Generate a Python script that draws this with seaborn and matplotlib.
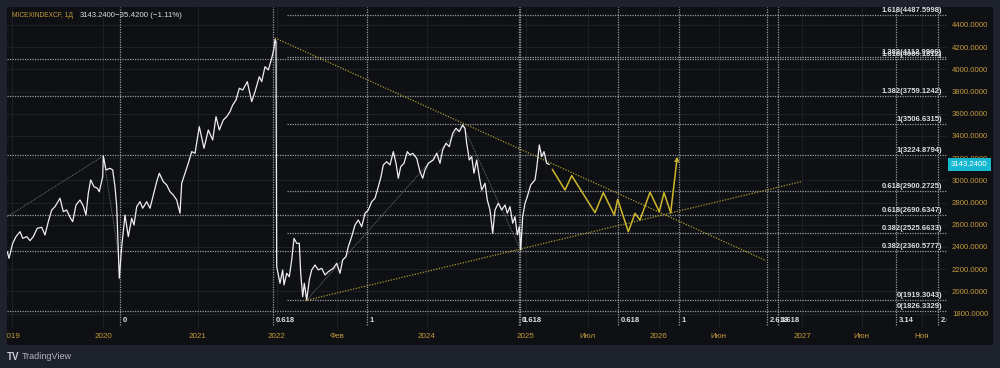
import matplotlib

matplotlib.use("Agg")
import matplotlib.pyplot as plt
from matplotlib.patches import Rectangle
import seaborn as sns
import pandas as pd

# Chart position along the (bar based) time axis and daily close
bar_pos = [
    7.3, 9, 12.7, 16, 20, 22.7, 26.7, 30, 33.3, 37.3, 41.7, 45, 48.3, 51.7, 55,
    60, 63.3, 66.7, 70, 72.7, 76, 80, 83.3, 86, 88.3, 90.7, 94, 97.3, 99.3,
    102.7, 103.3, 106, 110, 112.7, 115, 116.7, 119.3, 121.7, 125, 128.3, 131.7,
    134, 136.7, 140, 142.7, 146.7, 150, 153.3, 156.7, 159.3, 163.3, 166.7, 170,
    173.3, 176.7, 180, 181.7, 185, 188.3, 191.7, 195, 199.3, 204, 208.3, 212.7,
    216, 219.3, 223.3, 226.7, 230, 232.7, 236, 239.3, 242.7, 247.3, 251.7, 255,
    259.3, 261.7, 265, 268.3, 271.7, 274, 275, 276, 276.7, 280, 282.7, 284,
    286.7, 289.3, 291.7, 294, 296.7, 299.3, 300.7, 302.7, 304.3, 306.7, 309.3,
    311.7, 315, 318.3, 321.7, 325, 328.3, 333.3, 336.7, 340, 342.7, 346, 348.3,
    351.7, 355, 358.3, 361.7, 365, 368.3, 371.7, 375, 378.3, 381, 383.3, 386.7,
    390, 393.3, 396, 398.3, 400.7, 404, 407.3, 410, 412.7, 416.7, 420, 422.7,
    425, 428.3, 433.3, 436.7, 440, 442.7, 446, 449.3, 452.7, 456, 459.3, 462.7,
    465, 466.7, 469.3, 471.7, 474, 476.7, 479.3, 481.7, 485, 487.3, 490, 492.7,
    495, 498.3, 501.7, 505, 507.3, 510, 512.7, 515, 517.3, 519.3, 520.7, 522.7,
    525, 527.3, 530.7, 535, 536.7, 539.3, 541.7, 544, 546.7, 549.3,
]
close = [
    2358, 2298, 2433, 2493, 2538, 2478, 2493, 2457, 2493, 2569, 2577, 2508, 2628,
    2733, 2763, 2839, 2718, 2733, 2668, 2628, 2778, 2823, 2769, 2688, 2884, 3004,
    2943, 2929, 2898, 3033, 3220, 3094, 3109, 3094, 2943, 2763, 2118, 2403, 2688,
    2493, 2659, 2598, 2763, 2808, 2749, 2808, 2749, 2868, 2988, 3064, 2988, 2959,
    2898, 2868, 2823, 2704, 2974, 3064, 3154, 3259, 3244, 3484, 3289, 3454, 3364,
    3574, 3454, 3544, 3574, 3619, 3679, 3724, 3830, 3814, 3889, 3709, 3799, 3934,
    3889, 4024, 3995, 4100, 4190, 4271, 4250, 2223, 2073, 2193, 2058, 2163, 2132,
    2283, 2478, 2433, 2433, 2163, 1952, 2073, 1922, 2103, 2193, 2238, 2193, 2208,
    2148, 2177, 2208, 2253, 2163, 2283, 2313, 2403, 2493, 2598, 2643, 2583, 2704,
    2733, 2808, 2839, 2943, 3033, 3139, 3168, 3139, 3259, 3154, 3019, 3123, 3154,
    3259, 3229, 3244, 3199, 3078, 3019, 3094, 3154, 3184, 3244, 3154, 3274, 3334,
    3304, 3424, 3469, 3439, 3499, 3469, 3334, 3184, 3214, 3064, 3184, 3033, 2913,
    2974, 2823, 2733, 2523, 2733, 2794, 2733, 2778, 2704, 2763, 2614, 2673, 2508,
    2583, 2373, 2673, 2794, 2853, 2959, 3004, 3109, 3319, 3214, 3259, 3154, 3143.24,
]
last_close = 3143.24
header_name = "MICEXINDEXCF, 1Д"
header_values = ["3143.2400", "\u221235.4200 (\u22121.11%)"]

# hand drawn wave projection (yellow zigzag)
proj_pos = [552.3, 565, 571.7, 595, 603.3, 614.3, 617.7, 628.3, 635, 640, 650,
            659.3, 664, 670.7, 677.3]
proj_price = [3100, 2913, 3043, 2709, 2889, 2688, 2829, 2538, 2703, 2643, 2893,
              2718, 2889, 2709, 3214]

# trend lines
upper_pos = [275, 766]
upper_price = [4283, 2277]
lower_pos = [305, 801]
lower_price = [1916, 2988]

# fib tool anchor lines
anchor_a_pos = [7.3, 103.3, 118.5]
anchor_a_price = [2673, 3220, 2330]
anchor_b_pos = [306.7, 462.7, 520.7]
anchor_b_price = [1922, 3499, 2373]

# fibonacci price levels
fib_ratio = ["0", "0.382", "0.618", "1", "1.382", "1.618"]
fib_a_price = [1826.3329, 2360.5777, 2690.6347, 3224.8794, 3759.1242, 4089.1812]
fib_b_price = [1919.3043, 2525.6633, 2900.2725, 3506.6315, 4112.9906, 4487.5998]
fib_a_start = 7
fib_b_start = 287

# fibonacci time zones
tz_a_origin, tz_a_unit = 120, 247
tz_a_ratio = ["0", "0.618", "1", "1.618", "2.618", "3.14"]
tz_b_origin, tz_b_unit = 519, 160
tz_b_ratio = ["0", "0.618", "1", "1.618", "2.618"]

# time axis
date_pos = [11.7, 103, 197.5, 277, 336.5, 426.5, 526, 587.5, 659, 718.5, 802,
            861.5, 921.7]
date_lbl = ["2019", "2020", "2021", "2022", "Фев", "2024", "2025", "Июл", "2026",
            "Июн", "2027", "Июн", "Ноя"]
price_ticks = [1800, 2000, 2200, 2400, 2600, 2800, 3000, 3200, 3400, 3600, 3800,
               4000, 4200, 4400]

X_MIN, X_MAX = 7, 947
Y_MIN, Y_MAX = 1679, 4562

BG_OUT = "#1e222d"
BG = "#0f1014"
GOLD = "#c49a3c"
TXT = "#dcdde0"
FIB = "#999ba2"
TREND = "#a99a2c"
WAVE = "#cdb82c"

sns.set_theme(style="dark")
plt.rcParams["font.family"] = ["Liberation Sans", "DejaVu Sans"]

fig = plt.figure(figsize=(10, 3.68), dpi=100, facecolor=BG_OUT)
panel = Rectangle((0.007, 0.0625), 0.986, 0.9185, transform=fig.transFigure,
                  facecolor=BG, edgecolor="none", zorder=-5)
fig.patches.append(panel)

ax = fig.add_axes([0.007, 0.1114, 0.94, 0.8696])
ax.set_facecolor(BG)
for s in ax.spines.values():
    s.set_visible(False)

price_df = pd.DataFrame({"pos": bar_pos, "close": close})
proj_df = pd.DataFrame({"pos": proj_pos[:-1], "price": proj_price[:-1]})

# fib levels
for start, levels in ((fib_a_start, fib_a_price), (fib_b_start, fib_b_price)):
    for r, p in zip(fib_ratio, levels):
        ax.hlines(p, start, X_MAX, color=FIB, lw=0.9, linestyles=(0, (1, 1)), zorder=2)
        ax.text(942, p + 10, f"{r}({p:.4f})", ha="right", va="bottom", color=TXT,
                fontsize=5.5, fontweight="bold", zorder=5, clip_on=True)

# time zones
tz_y = 4400 - 296 * 9.009
for origin, unit, ratios in ((tz_a_origin, tz_a_unit, tz_a_ratio),
                             (tz_b_origin, tz_b_unit, tz_b_ratio)):
    for r in ratios:
        x = origin + float(r) * unit
        ax.vlines(x, 1697, Y_MAX, color=FIB, lw=0.9, linestyles=(0, (1, 1)), zorder=2)
        ax.text(x + 3, tz_y, r, ha="left", va="center", color=TXT, fontsize=5.5,
                fontweight="bold", zorder=5, clip_on=True)

# anchors and trend lines
ax.plot(anchor_a_pos, anchor_a_price, color="#7d8089", lw=0.6, ls=(0, (1, 1)), zorder=3)
ax.plot(anchor_b_pos, anchor_b_price, color="#7d8089", lw=0.6, ls=(0, (1, 1)), zorder=3)
ax.plot(upper_pos, upper_price, color=TREND, lw=0.9, ls=(0, (1, 1.2)), zorder=3)
ax.plot(lower_pos, lower_price, color=TREND, lw=0.9, ls=(0, (1, 1.2)), zorder=3)

# price
sns.lineplot(data=price_df, x="pos", y="close", sort=False, estimator=None,
             color="#eeeeee", lw=0.9, ax=ax, zorder=4)

# projection
sns.lineplot(data=proj_df, x="pos", y="price", sort=False, estimator=None,
             color=WAVE, lw=1.1, ax=ax, zorder=4)
ax.annotate("", xy=(proj_pos[-1], proj_price[-1]), xytext=(proj_pos[-2], proj_price[-2]),
            arrowprops=dict(arrowstyle="->", color=WAVE, lw=1.1, mutation_scale=6,
                            shrinkA=0, shrinkB=0), zorder=4)

ax.set_xlim(X_MIN, X_MAX)
ax.set_ylim(Y_MIN, Y_MAX)
ax.set_xlabel("")
ax.set_ylabel("")

ax.set_xticks(date_pos)
ax.set_xticklabels(date_lbl)
ax.yaxis.tick_right()
ax.set_yticks(price_ticks)
ax.set_yticklabels([f"{v:.4f}" for v in price_ticks])
ax.tick_params(axis="x", length=0, pad=4.5, labelsize=5.8, labelcolor=GOLD)
ax.tick_params(axis="y", length=0, pad=3.5, labelsize=5.6, labelcolor=GOLD)
ax.grid(True, color="#1c1f26", lw=0.8)
ax.set_axisbelow(True)
for lbl in ax.get_xticklabels():
    lbl.set_clip_path(panel)
    lbl.set_clip_on(True)

# last price tag
ax.annotate(f"{last_close:.4f}", xy=(1.0, last_close), xycoords=("axes fraction", "data"),
            xytext=(3, 0), textcoords="offset points", ha="left", va="center",
            fontsize=5.6, color="white", annotation_clip=False,
            bbox=dict(boxstyle="square,pad=0.35", facecolor="#16b8d2", edgecolor="none"))

# header
fig.text(0.0117, 0.9573, header_name, color=GOLD, fontsize=4.8, va="center")
fig.text(0.080, 0.9573, header_values[0], color=TXT, fontsize=5.5, va="center")
fig.text(0.115, 0.9573, header_values[1], color=TXT, fontsize=5.7, va="center")

# footer logo
fig.text(0.007, 0.030, "TV", color="#c9cbd1", fontsize=7, fontweight="heavy", va="center")
fig.text(0.022, 0.030, "TradingView", color="#b2b5be", fontsize=6.5, va="center")

fig.savefig("out.png", dpi=100, facecolor=BG_OUT)
plt.close(fig)
